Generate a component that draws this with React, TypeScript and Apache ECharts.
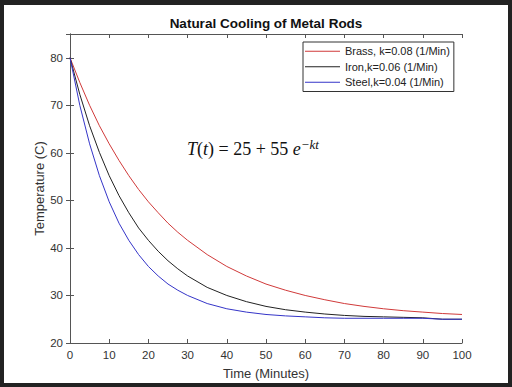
import React, { useEffect, useRef } from "react";
import * as echarts from "echarts";

const timeMin = [0, 2.5, 5, 7.5, 10, 12.5, 15, 17.5, 20, 22.5, 25, 27.5, 30, 35, 40, 45, 50, 55, 60, 65, 70, 75, 80, 85, 90, 95, 100];
const brassTemp = [80, 74.8, 70.0, 65.7, 61.9, 58.4, 55.2, 52.3, 49.7, 47.4, 45.2, 43.3, 41.6, 38.6, 36.1, 34.1, 32.4, 31.1, 30.0, 29.1, 28.3, 27.7, 27.2, 26.8, 26.5, 26.2, 26.0];
const ironTemp = [80, 72.3, 65.7, 60.1, 55.2, 51.0, 47.4, 44.2, 41.6, 39.3, 37.3, 35.6, 34.1, 31.7, 30.0, 28.7, 27.7, 27.0, 26.5, 26.1, 25.8, 25.6, 25.5, 25.4, 25.3, 25.0, 25.0];
const steelTemp = [80, 70.0, 61.9, 55.2, 49.7, 45.2, 41.6, 38.6, 36.1, 34.1, 32.4, 31.1, 30.0, 28.3, 27.2, 26.5, 26.0, 25.7, 25.5, 25.3, 25.2, 25.2, 25.2, 25.2, 25.2, 25.0, 25.0];
const seriesNames = ["Brass, k=0.08 (1/Min)", "Iron,k=0.06 (1/Min)", "Steel,k=0.04 (1/Min)"];
const seriesColors = ["#d03a3a", "#222222", "#3535c8"];

const FONT = "'Liberation Sans', Arial, sans-serif";
const SERIF = "'Liberation Serif', serif";
const AXIS = "#555";

export default function App() {
  const ref = useRef<HTMLDivElement>(null);
  useEffect(() => {
    document.body.style.margin = "0";
    const chart = echarts.init(ref.current!, null, { renderer: "svg" });
    const pairs = (vals: number[]) => timeMin.map((t, i) => [t, vals[i]]);
    const allVals = [brassTemp, ironTemp, steelTemp];
    chart.setOption({
      animation: false,
      backgroundColor: "#222",
      textStyle: { fontFamily: FONT },
      grid: { left: 70, right: 50, top: 34, bottom: 44, show: false },
      graphic: [
        { type: "rect", z: -100, silent: true, shape: { x: 4, y: 5, width: 504, height: 378 }, style: { fill: "#fff" } },
        {
          type: "text", x: 266, y: 23, z: 10,
          style: { text: "Natural Cooling of Metal Rods", font: "bold 13.5px " + FONT, fill: "#111", textAlign: "center", textVerticalAlign: "middle" },
        },
        {
          type: "text", x: 187, y: 149, z: 10,
          style: {
            text: "{i|T}{n|(}{i|t}{n|) = 25 + 55 }{i|e}{s|−kt}",
            textVerticalAlign: "middle",
            fill: "#111",
            rich: {
              i: { fontFamily: SERIF, fontStyle: "italic", fontSize: 18, lineHeight: 22, fill: "#111" },
              n: { fontFamily: SERIF, fontSize: 18, lineHeight: 22, fill: "#111" },
              s: { fontFamily: SERIF, fontStyle: "italic", fontSize: 13, lineHeight: 9, verticalAlign: "top", fill: "#111" },
            },
          },
        },
      ],
      legend: {
        orient: "vertical",
        left: 303,
        top: 42,
        backgroundColor: "#fff",
        borderColor: "#333",
        borderWidth: 1,
        padding: [3, 4, 3, 2],
        itemGap: 3,
        itemWidth: 35,
        itemHeight: 1,
        icon: "rect",
        textStyle: { fontSize: 11, color: "#222", fontFamily: FONT, lineHeight: 12.5 },
        data: seriesNames,
      },
      xAxis: [
        {
          type: "value", min: 0, max: 100, interval: 10, position: "bottom",
          name: "Time (Minutes)", nameLocation: "middle", nameGap: 24,
          nameTextStyle: { fontSize: 13, color: "#333", fontFamily: FONT },
          axisLine: { show: true, lineStyle: { color: AXIS, width: 1 } },
          axisTick: { show: true, inside: true, length: 4, lineStyle: { color: AXIS } },
          axisLabel: { fontSize: 11.5, color: "#333", margin: 6, fontFamily: FONT },
          splitLine: { show: false },
        },
        {
          type: "value", min: 0, max: 100, interval: 10, position: "top",
          axisLine: { show: true, lineStyle: { color: AXIS, width: 1 } },
          axisTick: { show: true, inside: true, length: 4, lineStyle: { color: AXIS } },
          axisLabel: { show: false },
          splitLine: { show: false },
        },
      ],
      yAxis: [
        {
          type: "value", min: 20, max: 85, interval: 10, position: "left",
          name: "Temperature (C)", nameLocation: "middle", nameGap: 24, nameMoveOverlap: false,
          nameTextStyle: { fontSize: 13, color: "#333", fontFamily: FONT },
          axisLine: { show: true, lineStyle: { color: AXIS, width: 1 } },
          axisTick: { show: true, inside: true, length: 4, lineStyle: { color: AXIS } },
          axisLabel: { fontSize: 11.5, color: "#333", margin: 7, fontFamily: FONT, showMaxLabel: false,
            formatter: (v: number) => (v % 10 === 0 ? String(v) : "") },
          splitLine: { show: false },
        },
        {
          type: "value", min: 20, max: 85, interval: 10, position: "right",
          axisLine: { show: true, lineStyle: { color: AXIS, width: 1 } },
          axisTick: { show: true, inside: true, length: 4, lineStyle: { color: AXIS } },
          axisLabel: { show: false },
          splitLine: { show: false },
        },
      ],
      series: allVals.map((vals, k) => ({
        type: "line",
        name: seriesNames[k],
        xAxisIndex: 0,
        yAxisIndex: 0,
        data: pairs(vals),
        symbol: "none",
        smooth: false,
        lineStyle: { color: seriesColors[k], width: 1 },
        itemStyle: { color: seriesColors[k] },
        z: 3 + k,
      })),
    });
    return () => chart.dispose();
  }, []);
  return <div ref={ref} style={{ width: 512, height: 387 }} />;
}
